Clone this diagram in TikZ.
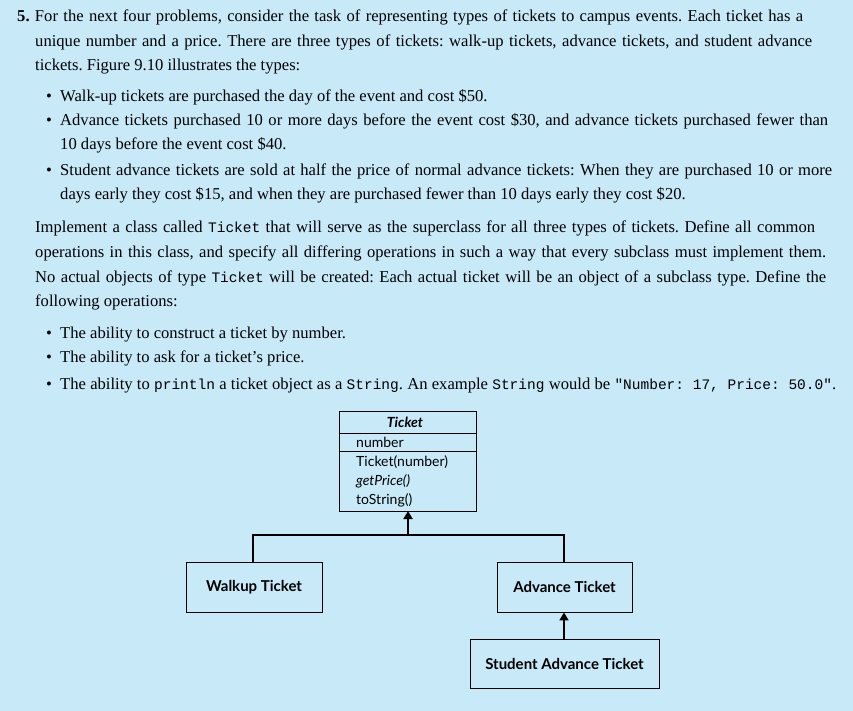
\documentclass[tikz,border=0pt]{standalone}
\usepackage{fontspec}
\setmainfont{Liberation Serif}
\setmonofont{Liberation Mono}
\newfontfamily\diag{Lato}
\usetikzlibrary{arrows.meta}
\definecolor{bg}{HTML}{C7E9F8}
\newcommand{\mytt}[1]{{\ttfamily\fontsize{14.5}{14}\selectfont #1}}
\newcommand{\J}[2]{\makebox[#1pt][s]{#2}}
\frenchspacing
\begin{document}
\begin{tikzpicture}[x=1pt,y=-1pt,
  ln/.style={anchor=base west,inner sep=0pt,font=\fontsize{16.6}{18}\selectfont},
  bul/.style={anchor=base west,inner sep=0pt,font=\fontsize{16.6}{18}\selectfont},
  cls/.style={draw,line width=0.9pt,inner sep=0pt,font=\diag\bfseries\fontsize{15}{16}\selectfont},
  mem/.style={anchor=base west,inner sep=0pt,font=\diag\fontsize{14}{15}\selectfont},
  conn/.style={line width=1.8pt},
  arr/.style={line width=1.8pt,-{Triangle[length=8pt,width=9pt]}}]
\fill[bg] (0,0) rectangle (853,711);
\useasboundingbox (0,0) rectangle (853,711);
\node[ln] (l1) at (17,22) {\J{786}{\textbf{5.} For the next four problems, consider the task of representing types of tickets to campus events. Each ticket has a}};
\node[ln] (l2) at (35,47) {\J{777}{unique number and a price. There are three types of tickets: walk-up tickets, advance tickets, and student advance}};
\node[ln] (l3) at (35,71) {tickets. Figure 9.10 illustrates the types:};
\node[bul] (b1) at (46,102) {•};
\node[ln] (l4) at (60,102) {Walk-up tickets are purchased the day of the event and cost \$50.};
\node[bul] (b2) at (46,126) {•};
\node[ln] (l5) at (60,126) {\J{768}{Advance tickets purchased 10 or more days before the event cost \$30, and advance tickets purchased fewer than}};
\node[ln] (l6) at (60,150) {10 days before the event cost \$40.};
\node[bul] (b3) at (46,176) {•};
\node[ln] (l7) at (60,176) {\J{772}{Student advance tickets are sold at half the price of normal advance tickets: When they are purchased 10 or more}};
\node[ln] (l8) at (60,200) {days early they cost \$15, and when they are purchased fewer than 10 days early they cost \$20.};
\node[ln] (l9) at (35,233) {\J{780}{Implement a class called \mytt{Ticket} that will serve as the superclass for all three types of tickets. Define all common}};
\node[ln] (l10) at (35,258) {\J{791}{operations in this class, and specify all differing operations in such a way that every subclass must implement them.}};
\node[ln] (l11) at (35,282) {\J{791}{No actual objects of type \mytt{Ticket} will be created: Each actual ticket will be an object of a subclass type. Define the}};
\node[ln] (l12) at (35,306) {following operations:};
\node[bul] (b4) at (46,338) {•};
\node[ln] (l13) at (60,338) {The ability to construct a ticket by number.};
\node[bul] (b5) at (46,362) {•};
\node[ln] (l14) at (60,362) {The ability to ask for a ticket’s price.};
\node[bul] (b6) at (46,389) {•};
\node[ln] (l15) at (60,389) {\J{776}{The ability to \mytt{println} a ticket object as a \mytt{String}. An example \mytt{String} would be \mytt{"Number: 17, Price: 50.0"}.}};
% Ticket class box
\draw[line width=0.9pt] (339,411) rectangle (476,511);
\draw[line width=0.9pt] (339,433) -- (476,433);
\draw[line width=0.9pt] (339,451) -- (476,451);
\node[inner sep=0pt,font=\diag\bfseries\itshape\fontsize{14}{15}\selectfont] (tt) at (405,422) {Ticket};
\node[mem] (tn) at (356,447) {number};
\node[mem] (tc) at (356,466) {Ticket(number)};
\node[mem,font=\diag\itshape\fontsize{14}{15}\selectfont] (tg) at (356,485) {getPrice()};
\node[mem] (ts) at (356,504) {toString()};
\coordinate (tb) at (408,511);
\node[cls,minimum width=136pt,minimum height=50pt] (w) at (254,587) {Walkup Ticket};
\node[cls,minimum width=135pt,minimum height=50pt] (a) at (564.5,587) {Advance Ticket};
\node[cls,minimum width=189pt,minimum height=49pt] (s) at (564.5,663.5) {Student Advance Ticket};
\coordinate (j) at (408,535);
\draw[conn] (w.north -| 253,0) |- (j) -| (a.north -| 564,0);
\draw[arr] (j) -- (tb);
\draw[arr] (s.north -| 564,0) -- (a.south -| 564,0);
\end{tikzpicture}
\end{document}
